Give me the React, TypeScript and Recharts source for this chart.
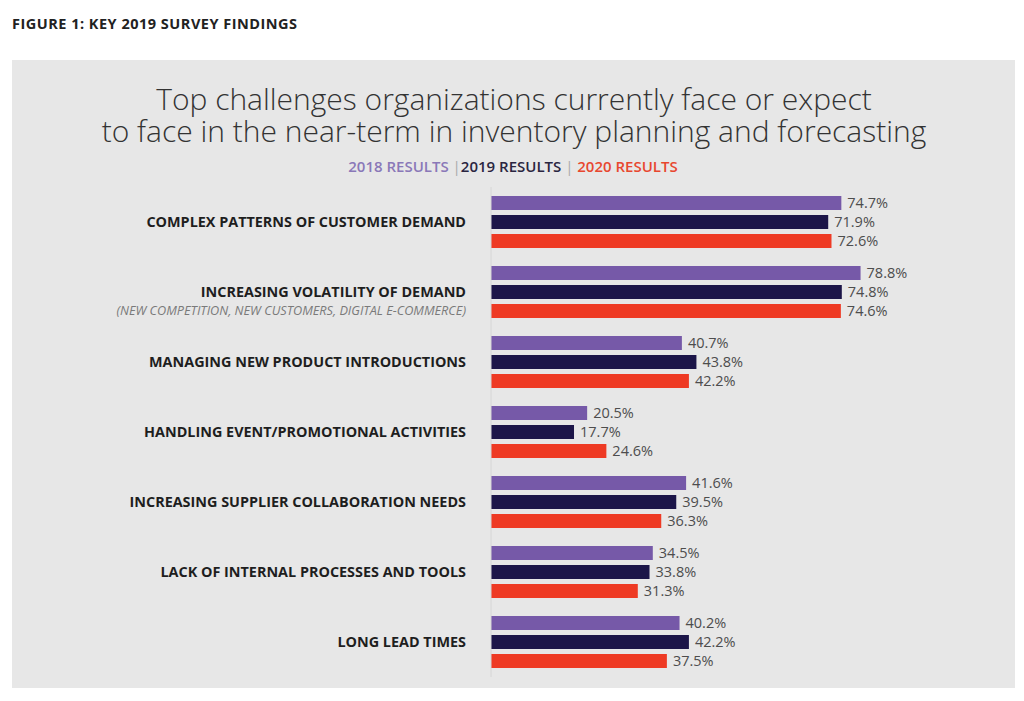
import React from "react";
import { BarChart, Bar, XAxis, YAxis, LabelList } from "recharts";

// Survey challenges, top to bottom
const categories = [
  "COMPLEX PATTERNS OF CUSTOMER DEMAND",
  "INCREASING VOLATILITY OF DEMAND",
  "MANAGING NEW PRODUCT INTRODUCTIONS",
  "HANDLING EVENT/PROMOTIONAL ACTIVITIES",
  "INCREASING SUPPLIER COLLABORATION NEEDS",
  "LACK OF INTERNAL PROCESSES AND TOOLS",
  "LONG LEAD TIMES",
];
const subtitles: Record<string, string> = {
  "INCREASING VOLATILITY OF DEMAND": "(NEW COMPETITION, NEW CUSTOMERS, DIGITAL E-COMMERCE)",
};

const results2018 = [74.7, 78.8, 40.7, 20.5, 41.6, 34.5, 40.2];
const results2019 = [71.9, 74.8, 43.8, 17.7, 39.5, 33.8, 42.2];
const results2020 = [72.6, 74.6, 42.2, 24.6, 36.3, 31.3, 37.5];

const COLORS = { y2018: "#7659a8", y2019: "#1c1548", y2020: "#ee3a24" };
const FONT = "'Open Sans', sans-serif";

const data = categories.map((name, i) => ({
  name,
  y2018: results2018[i],
  y2019: results2019[i],
  y2020: results2020[i],
}));

function CategoryTick(props: any) {
  const { x, y, payload } = props;
  const sub = subtitles[payload.value];
  return (
    <g>
      <text
        x={x - 17}
        y={y}
        dy={5}
        textAnchor="end"
        fill="#1e1e1e"
        fontFamily={FONT}
        fontWeight={700}
        fontSize={14.4}
      >
        {payload.value}
      </text>
      {sub && (
        <text
          x={x - 17}
          y={y + 19}
          dy={4}
          textAnchor="end"
          fill="#7a7a7a"
          fontFamily={FONT}
          fontStyle="italic"
          fontSize={12.7}
        >
          {sub}
        </text>
      )}
    </g>
  );
}

const pct = (v: any) => `${Number(v).toFixed(1)}%`;
const labelStyle = { fill: "#4d4d4d", fontSize: 14.5, fontFamily: FONT };

export default function App() {
  return (
    <div
      style={{
        position: "absolute",
        left: 0,
        top: 0,
        width: 1024,
        height: 701,
        background: "#fff",
        fontFamily: FONT,
      }}
    >
      <div
        style={{
          position: "absolute",
          left: 12,
          top: 14,
          fontSize: 14.5,
          fontWeight: 700,
          color: "#222",
          letterSpacing: 0.5,
        }}
      >
        FIGURE 1: KEY 2019 SURVEY FINDINGS
      </div>

      <div
        style={{
          position: "absolute",
          left: 12,
          top: 60,
          width: 1003,
          height: 628,
          background: "#e7e7e7",
        }}
      />

      <div
        style={{
          position: "absolute",
          left: 0,
          top: 83,
          width: 1028,
          textAlign: "center",
          fontSize: 30,
          fontWeight: 300,
          lineHeight: "32px",
          color: "#333",
        }}
      >
        Top challenges organizations currently face or expect
        <br />
        to face in the near-term in inventory planning and forecasting
      </div>

      <div
        style={{
          position: "absolute",
          left: 0,
          top: 156,
          width: 1026,
          textAlign: "center",
          fontSize: 15,
          fontWeight: 600,
        }}
      >
        <span style={{ color: "#8a78b8" }}>2018 RESULTS </span>
        <span style={{ color: "#aaa", fontWeight: 400 }}>|</span>
        <span style={{ color: "#2a2540" }}>2019 RESULTS </span>
        <span style={{ color: "#aaa", fontWeight: 400 }}>| </span>
        <span style={{ color: "#e8472f" }}>2020 RESULTS</span>
      </div>

      <div style={{ position: "absolute", left: 0, top: 0 }}>
        <BarChart
          width={1024}
          height={701}
          data={data}
          layout="vertical"
          margin={{ top: 187, right: 64, bottom: 24, left: 0 }}
          barSize={14}
          barGap={5}
          barCategoryGap={9}
        >
          <XAxis type="number" domain={[0, 100]} hide />
          <YAxis
            type="category"
            dataKey="name"
            width={491}
            tick={<CategoryTick />}
            tickLine={false}
            axisLine={{ stroke: "#d6d6d6", strokeWidth: 1 }}
            interval={0}
          />
          <Bar dataKey="y2018" fill={COLORS.y2018} isAnimationActive={false}>
            <LabelList dataKey="y2018" position="right" offset={6} formatter={pct} style={labelStyle} />
          </Bar>
          <Bar dataKey="y2019" fill={COLORS.y2019} isAnimationActive={false}>
            <LabelList dataKey="y2019" position="right" offset={6} formatter={pct} style={labelStyle} />
          </Bar>
          <Bar dataKey="y2020" fill={COLORS.y2020} isAnimationActive={false}>
            <LabelList dataKey="y2020" position="right" offset={6} formatter={pct} style={labelStyle} />
          </Bar>
        </BarChart>
      </div>
    </div>
  );
}
